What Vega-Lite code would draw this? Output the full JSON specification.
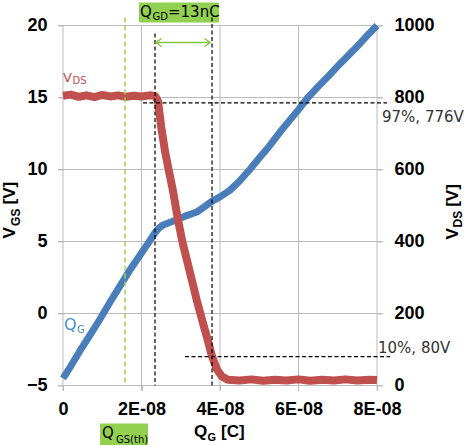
{
  "$schema": "https://vega.github.io/schema/vega-lite/v6.json",
  "width": 314,
  "height": 360,
  "autosize": {"type": "none"},
  "padding": {"left": 63, "top": 25.5, "right": 88, "bottom": 59.5},
  "background": "white",
  "config": {
    "view": {"stroke": null},
    "axis": {
      "labelFont": "Liberation Sans",
      "labelFontSize": 18,
      "labelFontWeight": "bold",
      "labelColor": "#000000",
      "labelFlush": false,
      "tickColor": "#BBBBBB",
      "tickSize": 5,
      "grid": false,
      "domain": false
    },
    "text": {"font": "DejaVu Sans", "align": "left", "baseline": "alphabetic"}
  },
  "datasets": {
    "grid_x": [
      {"q": 0, "v0": -5.35, "v1": 20}, {"q": 2e-8, "v0": -5.35, "v1": 20},
      {"q": 4e-8, "v0": -5.35, "v1": 20}, {"q": 6e-8, "v0": -5.35, "v1": 20},
      {"q": 8e-8, "v0": -5.35, "v1": 20}
    ],
    "grid_h": [
      {"lo": -5.04, "hi": -4.96, "q0": -0.13e-8, "q1": 8.15e-8},
      {"lo": -0.04, "hi": 0.04, "q0": -0.13e-8, "q1": 8.15e-8},
      {"lo": 4.96, "hi": 5.04, "q0": -0.13e-8, "q1": 8.15e-8},
      {"lo": 9.96, "hi": 10.04, "q0": -0.13e-8, "q1": 8.15e-8},
      {"lo": 14.96, "hi": 15.04, "q0": -0.13e-8, "q1": 8.15e-8},
      {"lo": 19.96, "hi": 20.04, "q0": -0.13e-8, "q1": 8.15e-8}
    ],
    "vgs": [
      {"q": 0, "vgs": -4.5}, {"q": 0.2e-8, "vgs": -3.65}, {"q": 0.43e-8, "vgs": -2.6},
      {"q": 0.7e-8, "vgs": -1.45}, {"q": 0.94e-8, "vgs": -0.4}, {"q": 1.2e-8, "vgs": 0.8},
      {"q": 1.45e-8, "vgs": 1.9}, {"q": 1.7e-8, "vgs": 3.0}, {"q": 2.0e-8, "vgs": 4.2},
      {"q": 2.2e-8, "vgs": 5.0}, {"q": 2.34e-8, "vgs": 5.6}, {"q": 2.45e-8, "vgs": 5.95},
      {"q": 2.55e-8, "vgs": 6.15}, {"q": 2.75e-8, "vgs": 6.35}, {"q": 2.93e-8, "vgs": 6.55},
      {"q": 3.15e-8, "vgs": 6.8}, {"q": 3.41e-8, "vgs": 7.05}, {"q": 3.6e-8, "vgs": 7.4},
      {"q": 3.8e-8, "vgs": 7.8}, {"q": 4.0e-8, "vgs": 8.1}, {"q": 4.25e-8, "vgs": 8.55},
      {"q": 4.5e-8, "vgs": 9.2}, {"q": 4.76e-8, "vgs": 10.0}, {"q": 5.0e-8, "vgs": 10.8},
      {"q": 5.25e-8, "vgs": 11.6}, {"q": 5.53e-8, "vgs": 12.6}, {"q": 5.8e-8, "vgs": 13.5},
      {"q": 6.0e-8, "vgs": 14.15}, {"q": 6.24e-8, "vgs": 15.0}, {"q": 6.5e-8, "vgs": 15.75},
      {"q": 6.75e-8, "vgs": 16.45}, {"q": 7.06e-8, "vgs": 17.35}, {"q": 7.3e-8, "vgs": 18.0},
      {"q": 7.55e-8, "vgs": 18.7}, {"q": 7.8e-8, "vgs": 19.45}, {"q": 8.0e-8, "vgs": 20.0}
    ],
    "vds": [
      {"q": 0, "vds": 805}, {"q": 0.2e-8, "vds": 808}, {"q": 0.4e-8, "vds": 802},
      {"q": 0.6e-8, "vds": 806}, {"q": 0.8e-8, "vds": 801}, {"q": 1.0e-8, "vds": 807},
      {"q": 1.2e-8, "vds": 803}, {"q": 1.4e-8, "vds": 806}, {"q": 1.6e-8, "vds": 802},
      {"q": 1.8e-8, "vds": 805}, {"q": 2.0e-8, "vds": 803}, {"q": 2.2e-8, "vds": 806},
      {"q": 2.35e-8, "vds": 804}, {"q": 2.42e-8, "vds": 790}, {"q": 2.5e-8, "vds": 720},
      {"q": 2.6e-8, "vds": 650}, {"q": 2.7e-8, "vds": 595}, {"q": 2.8e-8, "vds": 542},
      {"q": 2.93e-8, "vds": 460}, {"q": 3.05e-8, "vds": 395}, {"q": 3.16e-8, "vds": 347},
      {"q": 3.3e-8, "vds": 285}, {"q": 3.41e-8, "vds": 236}, {"q": 3.55e-8, "vds": 180},
      {"q": 3.67e-8, "vds": 133}, {"q": 3.8e-8, "vds": 80}, {"q": 3.92e-8, "vds": 45},
      {"q": 4.05e-8, "vds": 25}, {"q": 4.2e-8, "vds": 16}, {"q": 4.5e-8, "vds": 14},
      {"q": 4.8e-8, "vds": 17}, {"q": 5.1e-8, "vds": 13}, {"q": 5.4e-8, "vds": 16},
      {"q": 5.7e-8, "vds": 14}, {"q": 6.0e-8, "vds": 17}, {"q": 6.3e-8, "vds": 13},
      {"q": 6.6e-8, "vds": 16}, {"q": 6.9e-8, "vds": 14}, {"q": 7.2e-8, "vds": 17},
      {"q": 7.5e-8, "vds": 14}, {"q": 7.8e-8, "vds": 16}, {"q": 8.0e-8, "vds": 15}
    ],
    "levels": [
      {"q0": 2.038e-8, "q1": 8.256e-8, "vds": 785},
      {"q0": 3.109e-8, "q1": 8.33e-8, "vds": 80}
    ],
    "level_labels": [
      {"q": 8.128e-8, "vds": 730.6, "text": "97%, 776V"},
      {"q": 8.026e-8, "vds": 88.9, "text": "10%, 80V"}
    ],
    "boxes": [
      {"q0": 1.936e-8, "q1": 3.975e-8, "v0": 20.21, "v1": 21.6},
      {"q0": 0.943e-8, "q1": 2.166e-8, "v0": -7.64, "v1": -9.17}
    ],
    "marks_black": [
      {"q": 2.344e-8, "v0": 19.44, "v1": -5},
      {"q": 3.797e-8, "v0": 20.56, "v1": -5}
    ],
    "marks_green": [
      {"q": 1.58e-8, "v0": 20.56, "v1": -5}
    ],
    "arrow": [
      {"q0": 2.37e-8, "q1": 3.745e-8, "v": 18.82}
    ],
    "arrowheads": [
      {"q": 2.37e-8, "v": 18.82, "dir": "left"},
      {"q": 3.745e-8, "v": 18.82, "dir": "right"}
    ],
    "t_box": [
      {"q": 1.962e-8, "v": 20.56, "text": "Q"},
      {"q": 2.675e-8, "v": 20.56, "text": "=13nC"},
      {"q": 0.994e-8, "v": -8.68, "text": "Q"}
    ],
    "t_box_sub": [
      {"q": 2.28e-8, "v": 20.35, "text": "GD"},
      {"q": 1.35e-8, "v": -8.96, "text": "GS(th)"}
    ],
    "t_vds": [{"q": 0, "v": 16.11, "text": "V"}],
    "t_vds_sub": [{"q": 0.242e-8, "v": 15.97, "text": "DS"}],
    "t_qg": [{"q": 0.025e-8, "v": -1.18, "text": "Q"}],
    "t_qg_sub": [{"q": 0.357e-8, "v": -1.32, "text": "G"}],
    "t_xtitle": [
      {"q": 3.338e-8, "v": -8.61, "text": "Q"},
      {"q": 4.026e-8, "v": -8.61, "text": "[C]"}
    ],
    "t_xtitle_sub": [{"q": 3.682e-8, "v": -8.82, "text": "G"}],
    "t_ytitle": [
      {"q": -1.223e-8, "v": 5.21, "text": "V"},
      {"q": -1.223e-8, "v": 7.57, "text": "[V]"},
      {"q": 10.064e-8, "v": 5.14, "text": "V"},
      {"q": 10.064e-8, "v": 7.41, "text": "[V]"}
    ],
    "t_ytitle_sub": [
      {"q": -1.083e-8, "v": 6.08, "text": "GS"},
      {"q": 10.166e-8, "v": 5.97, "text": "DS"}
    ]
  },
  "resolve": {"scale": {"y": "independent"}},
  "layer": [
    {
      "data": {"name": "grid_x"},
      "mark": {"type": "rule", "color": "#BBBBBB", "strokeWidth": 1},
      "encoding": {
        "x": {
          "field": "q", "type": "quantitative",
          "scale": {"domain": [0, 8e-8], "nice": false},
          "axis": {
            "values": [0, 2e-8, 4e-8, 6e-8, 8e-8],
            "labelExpr": "datum.value == 0 ? '0' : toString(round(datum.value * 1e8)) + 'E-08'",
            "labelPadding": 10, "ticks": true, "title": null
          }
        },
        "y": {"field": "v0", "type": "quantitative", "scale": {"domain": [-5, 20], "nice": false}, "axis": null},
        "y2": {"field": "v1"}
      }
    },
    {
      "data": {"name": "grid_h"},
      "mark": {"type": "rect", "color": "#BBBBBB"},
      "encoding": {
        "x": {"field": "q0", "type": "quantitative", "scale": {"domain": [0, 8e-8], "nice": false}},
        "x2": {"field": "q1"},
        "y": {"field": "lo", "type": "quantitative", "scale": {"domain": [-5, 20], "nice": false}, "axis": null},
        "y2": {"field": "hi"}
      }
    },
    {
      "data": {"name": "vgs"},
      "mark": {"type": "line", "color": "#4A7EBB", "strokeWidth": 7, "strokeJoin": "round"},
      "encoding": {
        "x": {"field": "q", "type": "quantitative", "scale": {"domain": [0, 8e-8], "nice": false}},
        "y": {
          "field": "vgs", "type": "quantitative",
          "scale": {"domain": [-5, 20], "nice": false},
          "axis": {"values": [-5, 0, 5, 10, 15, 20], "labelPadding": 11, "title": null}
        }
      }
    },
    {
      "data": {"name": "vds"},
      "mark": {"type": "line", "color": "#C0504D", "strokeWidth": 8, "strokeJoin": "round"},
      "encoding": {
        "x": {"field": "q", "type": "quantitative", "scale": {"domain": [0, 8e-8], "nice": false}},
        "y": {
          "field": "vds", "type": "quantitative",
          "scale": {"domain": [0, 1000], "nice": false},
          "axis": {"orient": "right", "values": [0, 200, 400, 600, 800, 1000], "format": "d", "labelPadding": 12, "title": null}
        }
      }
    },
    {
      "data": {"name": "levels"},
      "mark": {"type": "rule", "color": "#000000", "strokeWidth": 1.2, "strokeDash": [4, 2.5]},
      "encoding": {
        "x": {"field": "q0", "type": "quantitative", "scale": {"domain": [0, 8e-8], "nice": false}},
        "x2": {"field": "q1"},
        "y": {"field": "vds", "type": "quantitative", "scale": {"domain": [0, 1000], "nice": false}, "axis": null}
      }
    },
    {
      "data": {"name": "level_labels"},
      "mark": {"type": "text", "fontSize": 15, "color": "#333333"},
      "encoding": {
        "x": {"field": "q", "type": "quantitative", "scale": {"domain": [0, 8e-8], "nice": false}},
        "y": {"field": "vds", "type": "quantitative", "scale": {"domain": [0, 1000], "nice": false}, "axis": null},
        "text": {"field": "text"}
      }
    },
    {
      "data": {"name": "boxes"},
      "mark": {"type": "rect", "color": "#92D050"},
      "encoding": {
        "x": {"field": "q0", "type": "quantitative", "scale": {"domain": [0, 8e-8], "nice": false}},
        "x2": {"field": "q1"},
        "y": {"field": "v0", "type": "quantitative", "scale": {"domain": [-5, 20], "nice": false}, "axis": null},
        "y2": {"field": "v1"}
      }
    },
    {
      "data": {"name": "marks_green"},
      "mark": {"type": "rule", "color": "#A3CF5E", "strokeWidth": 1.5, "strokeDash": [5, 3]},
      "encoding": {
        "x": {"field": "q", "type": "quantitative", "scale": {"domain": [0, 8e-8], "nice": false}},
        "y": {"field": "v0", "type": "quantitative", "scale": {"domain": [-5, 20], "nice": false}, "axis": null},
        "y2": {"field": "v1"}
      }
    },
    {
      "data": {"name": "marks_black"},
      "mark": {"type": "rule", "color": "#000000", "strokeWidth": 1.2, "strokeDash": [4, 2.5]},
      "encoding": {
        "x": {"field": "q", "type": "quantitative", "scale": {"domain": [0, 8e-8], "nice": false}},
        "y": {"field": "v0", "type": "quantitative", "scale": {"domain": [-5, 20], "nice": false}, "axis": null},
        "y2": {"field": "v1"}
      }
    },
    {
      "data": {"name": "arrow"},
      "mark": {"type": "rule", "color": "#86C440", "strokeWidth": 1.5},
      "encoding": {
        "x": {"field": "q0", "type": "quantitative", "scale": {"domain": [0, 8e-8], "nice": false}},
        "x2": {"field": "q1"},
        "y": {"field": "v", "type": "quantitative", "scale": {"domain": [-5, 20], "nice": false}, "axis": null}
      }
    },
    {
      "data": {"name": "arrowheads"},
      "mark": {"type": "point", "filled": false, "color": "#86C440", "strokeWidth": 1.5, "size": 64, "opacity": 1},
      "encoding": {
        "x": {"field": "q", "type": "quantitative", "scale": {"domain": [0, 8e-8], "nice": false}},
        "y": {"field": "v", "type": "quantitative", "scale": {"domain": [-5, 20], "nice": false}, "axis": null},
        "shape": {
          "field": "dir", "type": "nominal", "legend": null,
          "scale": {"domain": ["left", "right"], "range": ["M1.4,-1L0,0L1.4,1", "M-1.4,-1L0,0L-1.4,1"]}
        }
      }
    },
    {
      "data": {"name": "t_box"},
      "mark": {"type": "text", "fontSize": 15, "color": "#000000"},
      "encoding": {
        "x": {"field": "q", "type": "quantitative", "scale": {"domain": [0, 8e-8], "nice": false}},
        "y": {"field": "v", "type": "quantitative", "scale": {"domain": [-5, 20], "nice": false}, "axis": null},
        "text": {"field": "text"}
      }
    },
    {
      "data": {"name": "t_box_sub"},
      "mark": {"type": "text", "fontSize": 10, "color": "#000000"},
      "encoding": {
        "x": {"field": "q", "type": "quantitative", "scale": {"domain": [0, 8e-8], "nice": false}},
        "y": {"field": "v", "type": "quantitative", "scale": {"domain": [-5, 20], "nice": false}, "axis": null},
        "text": {"field": "text"}
      }
    },
    {
      "data": {"name": "t_vds"},
      "mark": {"type": "text", "fontSize": 13, "color": "#C0504D"},
      "encoding": {
        "x": {"field": "q", "type": "quantitative", "scale": {"domain": [0, 8e-8], "nice": false}},
        "y": {"field": "v", "type": "quantitative", "scale": {"domain": [-5, 20], "nice": false}, "axis": null},
        "text": {"field": "text"}
      }
    },
    {
      "data": {"name": "t_vds_sub"},
      "mark": {"type": "text", "fontSize": 10, "color": "#C0504D"},
      "encoding": {
        "x": {"field": "q", "type": "quantitative", "scale": {"domain": [0, 8e-8], "nice": false}},
        "y": {"field": "v", "type": "quantitative", "scale": {"domain": [-5, 20], "nice": false}, "axis": null},
        "text": {"field": "text"}
      }
    },
    {
      "data": {"name": "t_qg"},
      "mark": {"type": "text", "fontSize": 16, "color": "#4A8FC4"},
      "encoding": {
        "x": {"field": "q", "type": "quantitative", "scale": {"domain": [0, 8e-8], "nice": false}},
        "y": {"field": "v", "type": "quantitative", "scale": {"domain": [-5, 20], "nice": false}, "axis": null},
        "text": {"field": "text"}
      }
    },
    {
      "data": {"name": "t_qg_sub"},
      "mark": {"type": "text", "fontSize": 10, "color": "#4A8FC4"},
      "encoding": {
        "x": {"field": "q", "type": "quantitative", "scale": {"domain": [0, 8e-8], "nice": false}},
        "y": {"field": "v", "type": "quantitative", "scale": {"domain": [-5, 20], "nice": false}, "axis": null},
        "text": {"field": "text"}
      }
    },
    {
      "data": {"name": "t_xtitle"},
      "mark": {"type": "text", "font": "Liberation Sans", "fontWeight": "bold", "fontSize": 17, "color": "#000000"},
      "encoding": {
        "x": {"field": "q", "type": "quantitative", "scale": {"domain": [0, 8e-8], "nice": false}},
        "y": {"field": "v", "type": "quantitative", "scale": {"domain": [-5, 20], "nice": false}, "axis": null},
        "text": {"field": "text"}
      }
    },
    {
      "data": {"name": "t_xtitle_sub"},
      "mark": {"type": "text", "font": "Liberation Sans", "fontWeight": "bold", "fontSize": 11, "color": "#000000"},
      "encoding": {
        "x": {"field": "q", "type": "quantitative", "scale": {"domain": [0, 8e-8], "nice": false}},
        "y": {"field": "v", "type": "quantitative", "scale": {"domain": [-5, 20], "nice": false}, "axis": null},
        "text": {"field": "text"}
      }
    },
    {
      "data": {"name": "t_ytitle"},
      "mark": {"type": "text", "angle": 270, "font": "Liberation Sans", "fontWeight": "bold", "fontSize": 17, "color": "#000000"},
      "encoding": {
        "x": {"field": "q", "type": "quantitative", "scale": {"domain": [0, 8e-8], "nice": false}},
        "y": {"field": "v", "type": "quantitative", "scale": {"domain": [-5, 20], "nice": false}, "axis": null},
        "text": {"field": "text"}
      }
    },
    {
      "data": {"name": "t_ytitle_sub"},
      "mark": {"type": "text", "angle": 270, "font": "Liberation Sans", "fontWeight": "bold", "fontSize": 12, "color": "#000000"},
      "encoding": {
        "x": {"field": "q", "type": "quantitative", "scale": {"domain": [0, 8e-8], "nice": false}},
        "y": {"field": "v", "type": "quantitative", "scale": {"domain": [-5, 20], "nice": false}, "axis": null},
        "text": {"field": "text"}
      }
    }
  ]
}
